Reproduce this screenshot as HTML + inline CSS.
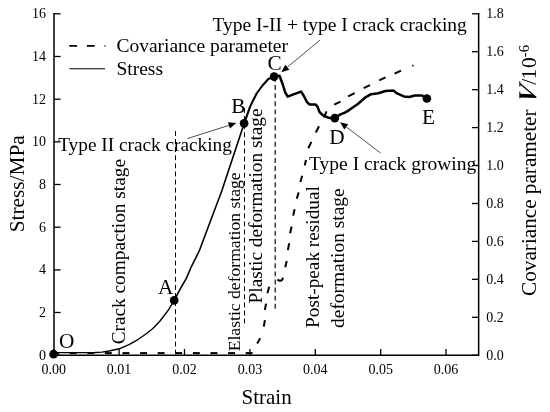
<!DOCTYPE html>
<html><head><meta charset="utf-8"><title>Stress-strain</title>
<style>html,body{margin:0;padding:0;background:#fff}svg{display:block}text{font-family:"Liberation Serif","Times New Roman",serif;fill:#000}</style>
</head><body>
<svg width="550" height="412" viewBox="0 0 550 412">
<rect width="550" height="412" fill="#fff"/>
<g stroke="#000" stroke-width="1.0" fill="none" stroke-dasharray="4.9 3.2">
<line x1="175.5" y1="131" x2="175.5" y2="354"/>
<line x1="244.5" y1="108" x2="244.5" y2="327"/>
<line x1="275.2" y1="77" x2="275.2" y2="310.2" stroke-width="1.15"/>
</g>
<g stroke="#000" stroke-width="2.0" fill="none">
<path d="M52.1 353.1 L59.0 353.1"/>
<path d="M69.7 353.1 L76.6 353.1"/>
<path d="M87.3 353.1 L94.2 353.1"/>
<path d="M104.9 353.1 L111.8 353.1"/>
<path d="M122.5 353.1 L129.4 353.1"/>
<path d="M140.1 353.1 L147.0 353.1"/>
<path d="M157.7 353.1 L164.6 353.1"/>
<path d="M175.3 353.1 L182.2 353.1"/>
<path d="M192.9 353.1 L199.8 353.1"/>
<path d="M210.5 353.1 L217.4 353.1"/>
<path d="M228.1 353.1 L235.0 353.1"/>
<path d="M245.7 353.1 L252.6 353.1"/>
<path d="M257.2 343.5 L260.2 338.2"/>
<path d="M263.8 326.6 L264.9 320.2"/>
<path d="M264.9 310.0 L266.0 303.6"/>
<path d="M267.4 293.2 L269.2 286.8"/>
<path d="M277.4 279.6 L280.0 281.0 L281.8 280.2 L283.2 277.8"/>
<path d="M285.2 267.3 L286.8 261.0"/>
<path d="M287.9 250.1 L289.2 243.2"/>
<path d="M290.1 233.2 L291.6 226.5"/>
<path d="M293.2 215.6 L294.6 209.2"/>
<path d="M296.8 198.6 L298.7 192.4"/>
<path d="M300.3 182.0 L302.2 175.7"/>
<path d="M304.7 165.5 L306.0 160.0"/>
<path d="M308.3 148.3 L311.4 141.9"/>
<path d="M315.8 132.5 L319.0 126.2"/>
<path d="M324.0 117.7 L326.5 111.4"/>
<path d="M334.2 104.6 L340.5 101.6"/>
<path d="M348.2 96.4 L354.6 93.2"/>
<path d="M363.7 88.2 L370.0 85.1"/>
<path d="M379.2 80.4 L385.5 77.3"/>
<path d="M394.6 73.7 L401.0 70.6"/>
<path d="M412.3 65.9 L413.4 65.4"/>
</g>
<path d="M54.0 352.6 L80.0 352.6 L95.0 352.5 L101.9 352.1 L109.1 351.0 L119.3 348.8 L129.5 344.4 L138.3 339.3 L145.6 334.2 L152.9 328.5 L160.0 321.0 L168.4 310.0 L174.2 300.3" stroke="#000" stroke-width="1.4" fill="none" stroke-linejoin="round" stroke-linecap="round"/>
<path d="M174.2 300.3 L180.8 287.9 L185.6 279.6 L186.2 278.6 L191.0 267.5 L196.8 255.8 L199.6 250.0 L222.1 190.0 L244.2 123.3" stroke="#000" stroke-width="1.6" fill="none" stroke-linejoin="round" stroke-linecap="round"/>
<path d="M244.2 123.3 L250.1 106.6 L256.6 93.5 L262.5 85.5 L268.3 79.0 L274.1 76.6" stroke="#000" stroke-width="2.1" fill="none" stroke-linejoin="round" stroke-linecap="round"/>
<path d="M274.1 76.6 L279.5 75.7 L282.6 84.0 L285.2 92.3 L287.7 96.7 L294.1 94.2 L301.1 91.6 L303.6 95.5 L306.8 101.8 L309.4 104.4 L315.7 104.6 L317.6 106.9 L319.5 112.0 L322.7 115.2 L325.3 116.5 L329.7 118.1 L334.8 118.1 L340.0 114.6 L344.9 112.6 L349.1 110.1 L358.2 103.7 L365.5 97.3 L371.0 94.2 L378.3 93.2 L385.5 91.0 L393.7 90.6 L396.5 93.2 L403.8 96.4 L409.2 97.0 L414.7 95.5 L422.0 95.5 L426.8 98.4" stroke="#000" stroke-width="2.5" fill="none" stroke-linejoin="round" stroke-linecap="round"/>
<circle cx="53.6" cy="354.2" r="4.35" fill="#000"/>
<circle cx="174.2" cy="300.4" r="4.35" fill="#000"/>
<circle cx="244.1" cy="123.3" r="4.35" fill="#000"/>
<circle cx="274.1" cy="76.6" r="4.35" fill="#000"/>
<circle cx="334.8" cy="118.1" r="4.35" fill="#000"/>
<circle cx="426.9" cy="98.5" r="4.35" fill="#000"/>
<g stroke="#000" stroke-width="1.5" fill="none">
<path d="M54.00 13.8 V355.35 H478.65 V13.8" stroke-linecap="square"/>
</g><g stroke="#000" stroke-width="1.3" fill="none">
<line x1="54.0" y1="355.2" x2="60.6" y2="355.2"/>
<line x1="54.0" y1="312.5" x2="60.6" y2="312.5"/>
<line x1="54.0" y1="269.9" x2="60.6" y2="269.9"/>
<line x1="54.0" y1="227.2" x2="60.6" y2="227.2"/>
<line x1="54.0" y1="184.5" x2="60.6" y2="184.5"/>
<line x1="54.0" y1="141.8" x2="60.6" y2="141.8"/>
<line x1="54.0" y1="99.2" x2="60.6" y2="99.2"/>
<line x1="54.0" y1="56.5" x2="60.6" y2="56.5"/>
<line x1="54.0" y1="13.8" x2="60.6" y2="13.8"/>
<line x1="478.6" y1="355.2" x2="472.0" y2="355.2"/>
<line x1="478.6" y1="317.3" x2="472.0" y2="317.3"/>
<line x1="478.6" y1="279.3" x2="472.0" y2="279.3"/>
<line x1="478.6" y1="241.4" x2="472.0" y2="241.4"/>
<line x1="478.6" y1="203.5" x2="472.0" y2="203.5"/>
<line x1="478.6" y1="165.5" x2="472.0" y2="165.5"/>
<line x1="478.6" y1="127.6" x2="472.0" y2="127.6"/>
<line x1="478.6" y1="89.7" x2="472.0" y2="89.7"/>
<line x1="478.6" y1="51.7" x2="472.0" y2="51.7"/>
<line x1="478.6" y1="13.8" x2="472.0" y2="13.8"/>
<line x1="53.8" y1="355.2" x2="53.8" y2="348.9"/>
<line x1="119.1" y1="355.2" x2="119.1" y2="348.9"/>
<line x1="184.5" y1="355.2" x2="184.5" y2="348.9"/>
<line x1="249.9" y1="355.2" x2="249.9" y2="348.9"/>
<line x1="315.3" y1="355.2" x2="315.3" y2="348.9"/>
<line x1="380.7" y1="355.2" x2="380.7" y2="348.9"/>
<line x1="446.0" y1="355.2" x2="446.0" y2="348.9"/>
</g>
<g font-size="14">
<text x="46" y="359.7" text-anchor="end">0</text>
<text x="46" y="317.0" text-anchor="end">2</text>
<text x="46" y="274.4" text-anchor="end">4</text>
<text x="46" y="231.7" text-anchor="end">6</text>
<text x="46" y="189.0" text-anchor="end">8</text>
<text x="46" y="146.3" text-anchor="end">10</text>
<text x="46" y="103.7" text-anchor="end">12</text>
<text x="46" y="61.0" text-anchor="end">14</text>
<text x="46" y="18.3" text-anchor="end">16</text>
<text x="486.2" y="359.7">0.0</text>
<text x="486.2" y="321.8">0.2</text>
<text x="486.2" y="283.8">0.4</text>
<text x="486.2" y="245.9">0.6</text>
<text x="486.2" y="208.0">0.8</text>
<text x="486.2" y="170.0">1.0</text>
<text x="486.2" y="132.1">1.2</text>
<text x="486.2" y="94.2">1.4</text>
<text x="486.2" y="56.2">1.6</text>
<text x="486.2" y="18.3">1.8</text>
<text x="53.8" y="373.7" text-anchor="middle">0.00</text>
<text x="119.1" y="373.7" text-anchor="middle">0.01</text>
<text x="184.5" y="373.7" text-anchor="middle">0.02</text>
<text x="249.9" y="373.7" text-anchor="middle">0.03</text>
<text x="315.3" y="373.7" text-anchor="middle">0.04</text>
<text x="380.7" y="373.7" text-anchor="middle">0.05</text>
<text x="446.0" y="373.7" text-anchor="middle">0.06</text>
</g>
<text x="266.6" y="404.4" font-size="21" text-anchor="middle">Strain</text>
<text transform="translate(23.9 183.8) rotate(-90)" font-size="21.3" text-anchor="middle">Stress/MPa</text>
<text transform="translate(535.9 295.9) rotate(-90)" font-size="21.2">Covariance parameter</text>
<text id="V" transform="translate(536.2 104.4) rotate(-90) skewX(-15.6)" font-size="25.5" font-weight="bold" font-style="italic">V</text>
<text transform="translate(536.2 84.7) rotate(-90)" font-size="21.5">/<tspan dx="-0.7">1</tspan><tspan dx="0.7">0</tspan><tspan font-size="14.7" dy="-7.3">-6</tspan></text>
<line x1="69.3" y1="45.9" x2="105.4" y2="45.9" stroke="#000" stroke-width="1.6" stroke-dasharray="7.8 9.8"/>
<line x1="69.5" y1="68.8" x2="105" y2="68.8" stroke="#000" stroke-width="1.1"/>
<text x="116.4" y="52.1" font-size="19.5">Covariance parameter</text>
<text x="116.4" y="75.2" font-size="19.5">Stress</text>
<text x="212.5" y="30.9" font-size="19.5">Type I-II + type I crack cracking</text>
<text x="58.2" y="151.1" font-size="19.3">Type II crack cracking</text>
<text x="309" y="169.5" font-size="19.55">Type I crack growing</text>
<g font-size="21.3">
<text x="58.9" y="347.6">O</text>
<text x="158" y="294.1">A</text>
<text x="231.3" y="112.9">B</text>
<text x="267.6" y="69.5">C</text>
<text x="329.3" y="144.3">D</text>
<text x="422.1" y="124.4">E</text>
</g>
<text transform="translate(124.8 344.3) rotate(-90)" font-size="19.3">Crack compaction stage</text>
<text transform="translate(239.5 351.3) rotate(-90)" font-size="17.62">Elastic deformation stage</text>
<text transform="translate(261.6 303.4) rotate(-90)" font-size="19.3">Plastic deformation stage</text>
<text transform="translate(319.3 327.9) rotate(-90)" font-size="19.25">Post-peak residual</text>
<text transform="translate(344.2 327.9) rotate(-90)" font-size="19.4">deformation stage</text>
<line x1="187.3" y1="138.6" x2="228.9" y2="125.4" stroke="#000" stroke-width="0.7"/>
<polygon points="236.3,123.0 229.9,128.5 227.9,122.2" fill="#000"/>
<line x1="320.0" y1="40.1" x2="287.3" y2="67.2" stroke="#000" stroke-width="0.7"/>
<polygon points="281.3,72.2 285.2,64.7 289.4,69.8" fill="#000"/>
<line x1="380.6" y1="153.1" x2="346.3" y2="126.9" stroke="#000" stroke-width="0.7"/>
<polygon points="340.1,122.2 348.3,124.3 344.3,129.6" fill="#000"/>
</svg>
</body></html>
